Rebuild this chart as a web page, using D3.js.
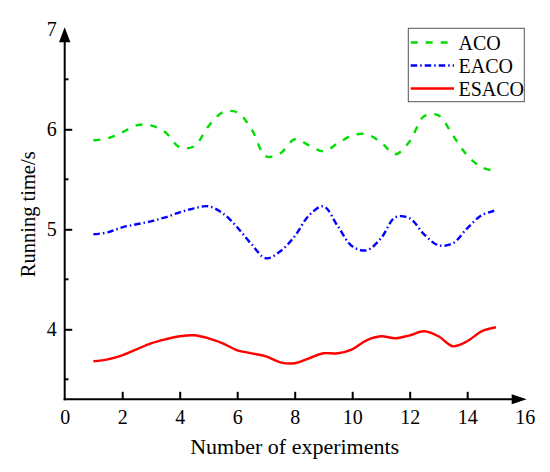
<!DOCTYPE html>
<html>
<head>
<meta charset="utf-8">
<script src="https://cdn.jsdelivr.net/npm/d3@7/dist/d3.min.js"></script>
<style>
  html, body { margin: 0; padding: 0; background: #fff; }
  svg { display: block; }
  text { font-family: "Liberation Serif", "Times New Roman", serif; fill: #000; }
</style>
</head>
<body>
<svg id="chart" width="550" height="472"></svg>
<script>
const xs = [1, 1.5, 2, 2.5, 3, 3.5, 4, 4.5, 5, 5.5, 6, 6.5, 7, 7.5, 8, 8.5, 9, 9.5,
            10, 10.5, 11, 11.5, 12, 12.5, 13, 13.5, 14, 14.5, 15];
const seriesNames = ["ACO", "EACO", "ESACO"];
const aco   = [5.89, 5.91, 5.97, 6.04, 6.04, 5.97, 5.82, 5.83, 6.03, 6.17, 6.17, 6.00, 5.73, 5.76,
               5.90, 5.84, 5.78, 5.86, 5.94, 5.95, 5.87, 5.75, 5.88, 6.13, 6.14, 5.94, 5.74, 5.62, 5.58];
const eaco  = [4.95, 4.97, 5.02, 5.05, 5.08, 5.12, 5.17, 5.21, 5.23, 5.16, 5.02, 4.85, 4.71, 4.78,
               4.93, 5.14, 5.23, 5.03, 4.83, 4.79, 4.91, 5.12, 5.11, 4.95, 4.84, 4.86, 5.01, 5.14, 5.19];
const esaco = [3.68, 3.70, 3.74, 3.80, 3.86, 3.90, 3.93, 3.94, 3.91, 3.86, 3.79, 3.76, 3.73, 3.67,
               3.66, 3.71, 3.76, 3.76, 3.80, 3.89, 3.93, 3.91, 3.94, 3.98, 3.93, 3.83, 3.88, 3.98, 4.02];
const xTicks = [0, 2, 4, 6, 8, 10, 12, 14, 16];
const yTicks = [4, 5, 6, 7];
const yMinor = [3.5, 4.5, 5.5, 6.5];
const xLabel = "Number of experiments";
const yLabel = "Running time/s";

const svg = d3.select("#chart");
const x = d3.scaleLinear().domain([0, 16]).range([64.7, 524.7]);
const y = d3.scaleLinear().domain([3.3, 7]).range([399.3, 29.3]);

const x0 = x(0), yBase = y(3.3);

// X axis ticks & labels
const gx = svg.append("g").attr("transform", `translate(0,${yBase})`)
  .call(d3.axisBottom(x).tickValues(xTicks).tickFormat(d3.format("d"))
        .tickSizeInner(-7.5).tickSizeOuter(0).tickPadding(10.5));
gx.select(".domain").remove();
gx.selectAll(".tick line").attr("stroke", "#000").attr("stroke-width", 2)
  .filter(d => d === 0 || d === 16).remove();
gx.selectAll(".tick text").attr("font-size", 20).attr("font-family", "Liberation Serif");

// Y axis ticks & labels
const gy = svg.append("g").attr("transform", `translate(${x0},0)`)
  .call(d3.axisLeft(y).tickValues(yTicks).tickFormat(d3.format("d"))
        .tickSizeInner(-7.5).tickSizeOuter(0).tickPadding(8));
gy.select(".domain").remove();
gy.selectAll(".tick line").attr("stroke", "#000").attr("stroke-width", 2)
  .filter(d => d === 7).remove();
gy.selectAll(".tick text").attr("font-size", 20).attr("font-family", "Liberation Serif");

// Minor y ticks
svg.append("g").selectAll("line").data(yMinor).join("line")
  .attr("x1", x0).attr("x2", x0 + 3.8)
  .attr("y1", d => y(d)).attr("y2", d => y(d))
  .attr("stroke", "#000").attr("stroke-width", 2);

// Axis lines with arrows
svg.append("line").attr("x1", x0).attr("x2", x0).attr("y1", yBase + 1).attr("y2", y(7) + 10)
  .attr("stroke", "#000").attr("stroke-width", 2);
svg.append("line").attr("x1", x0 - 1).attr("x2", x(16) - 10).attr("y1", yBase).attr("y2", yBase)
  .attr("stroke", "#000").attr("stroke-width", 2);
svg.append("path")
  .attr("d", `M${x0},${y(7) - 2} L${x0 - 5.7},${y(7) + 13} L${x0 + 5.7},${y(7) + 13} Z`)
  .attr("fill", "#000");
svg.append("path")
  .attr("d", `M${x(16) + 2},${yBase} L${x(16) - 13},${yBase - 5} L${x(16) - 13},${yBase + 5} Z`)
  .attr("fill", "#000");

// Series
const styles = [
  { data: aco,   color: "#00dd00", dash: "7,8" },
  { data: eaco,  color: "#0000ff", dash: "6.5,3,1.5,3" },
  { data: esaco, color: "#ff0000", dash: null }
];
const line = d3.line().x(d => x(d[0])).y(d => y(d[1])).curve(d3.curveCatmullRom.alpha(0.5));
styles.forEach(s => {
  svg.append("path")
    .datum(xs.map((v, i) => [v, s.data[i]]))
    .attr("d", line)
    .attr("fill", "none")
    .attr("stroke", s.color)
    .attr("stroke-width", 2.4)
    .attr("stroke-dasharray", s.dash);
});

// Axis titles
svg.append("text").attr("x", x(8)).attr("y", 454).attr("text-anchor", "middle")
  .attr("font-size", 22).text(xLabel);
svg.append("text").attr("transform", `translate(35,${(y(3.3) + y(7)) / 2}) rotate(-90)`)
  .attr("text-anchor", "middle").attr("font-size", 20.5).text(yLabel);

// Legend
const lg = svg.append("g");
lg.append("rect").attr("x", 408.3).attr("y", 28.3).attr("width", 116).attr("height", 73.4)
  .attr("fill", "#fff").attr("stroke", "#555").attr("stroke-width", 1);
seriesNames.forEach((n, i) => {
  const ry = 42.5 + i * 23;
  lg.append("line").attr("x1", 410.7).attr("x2", 454).attr("y1", ry).attr("y2", ry)
    .attr("stroke", styles[i].color).attr("stroke-width", 2.4)
    .attr("stroke-dasharray", styles[i].dash);
  lg.append("text").attr("x", 458.5).attr("y", ry).attr("dy", "0.35em")
    .attr("font-size", 20).text(n);
});
</script>
</body>
</html>
